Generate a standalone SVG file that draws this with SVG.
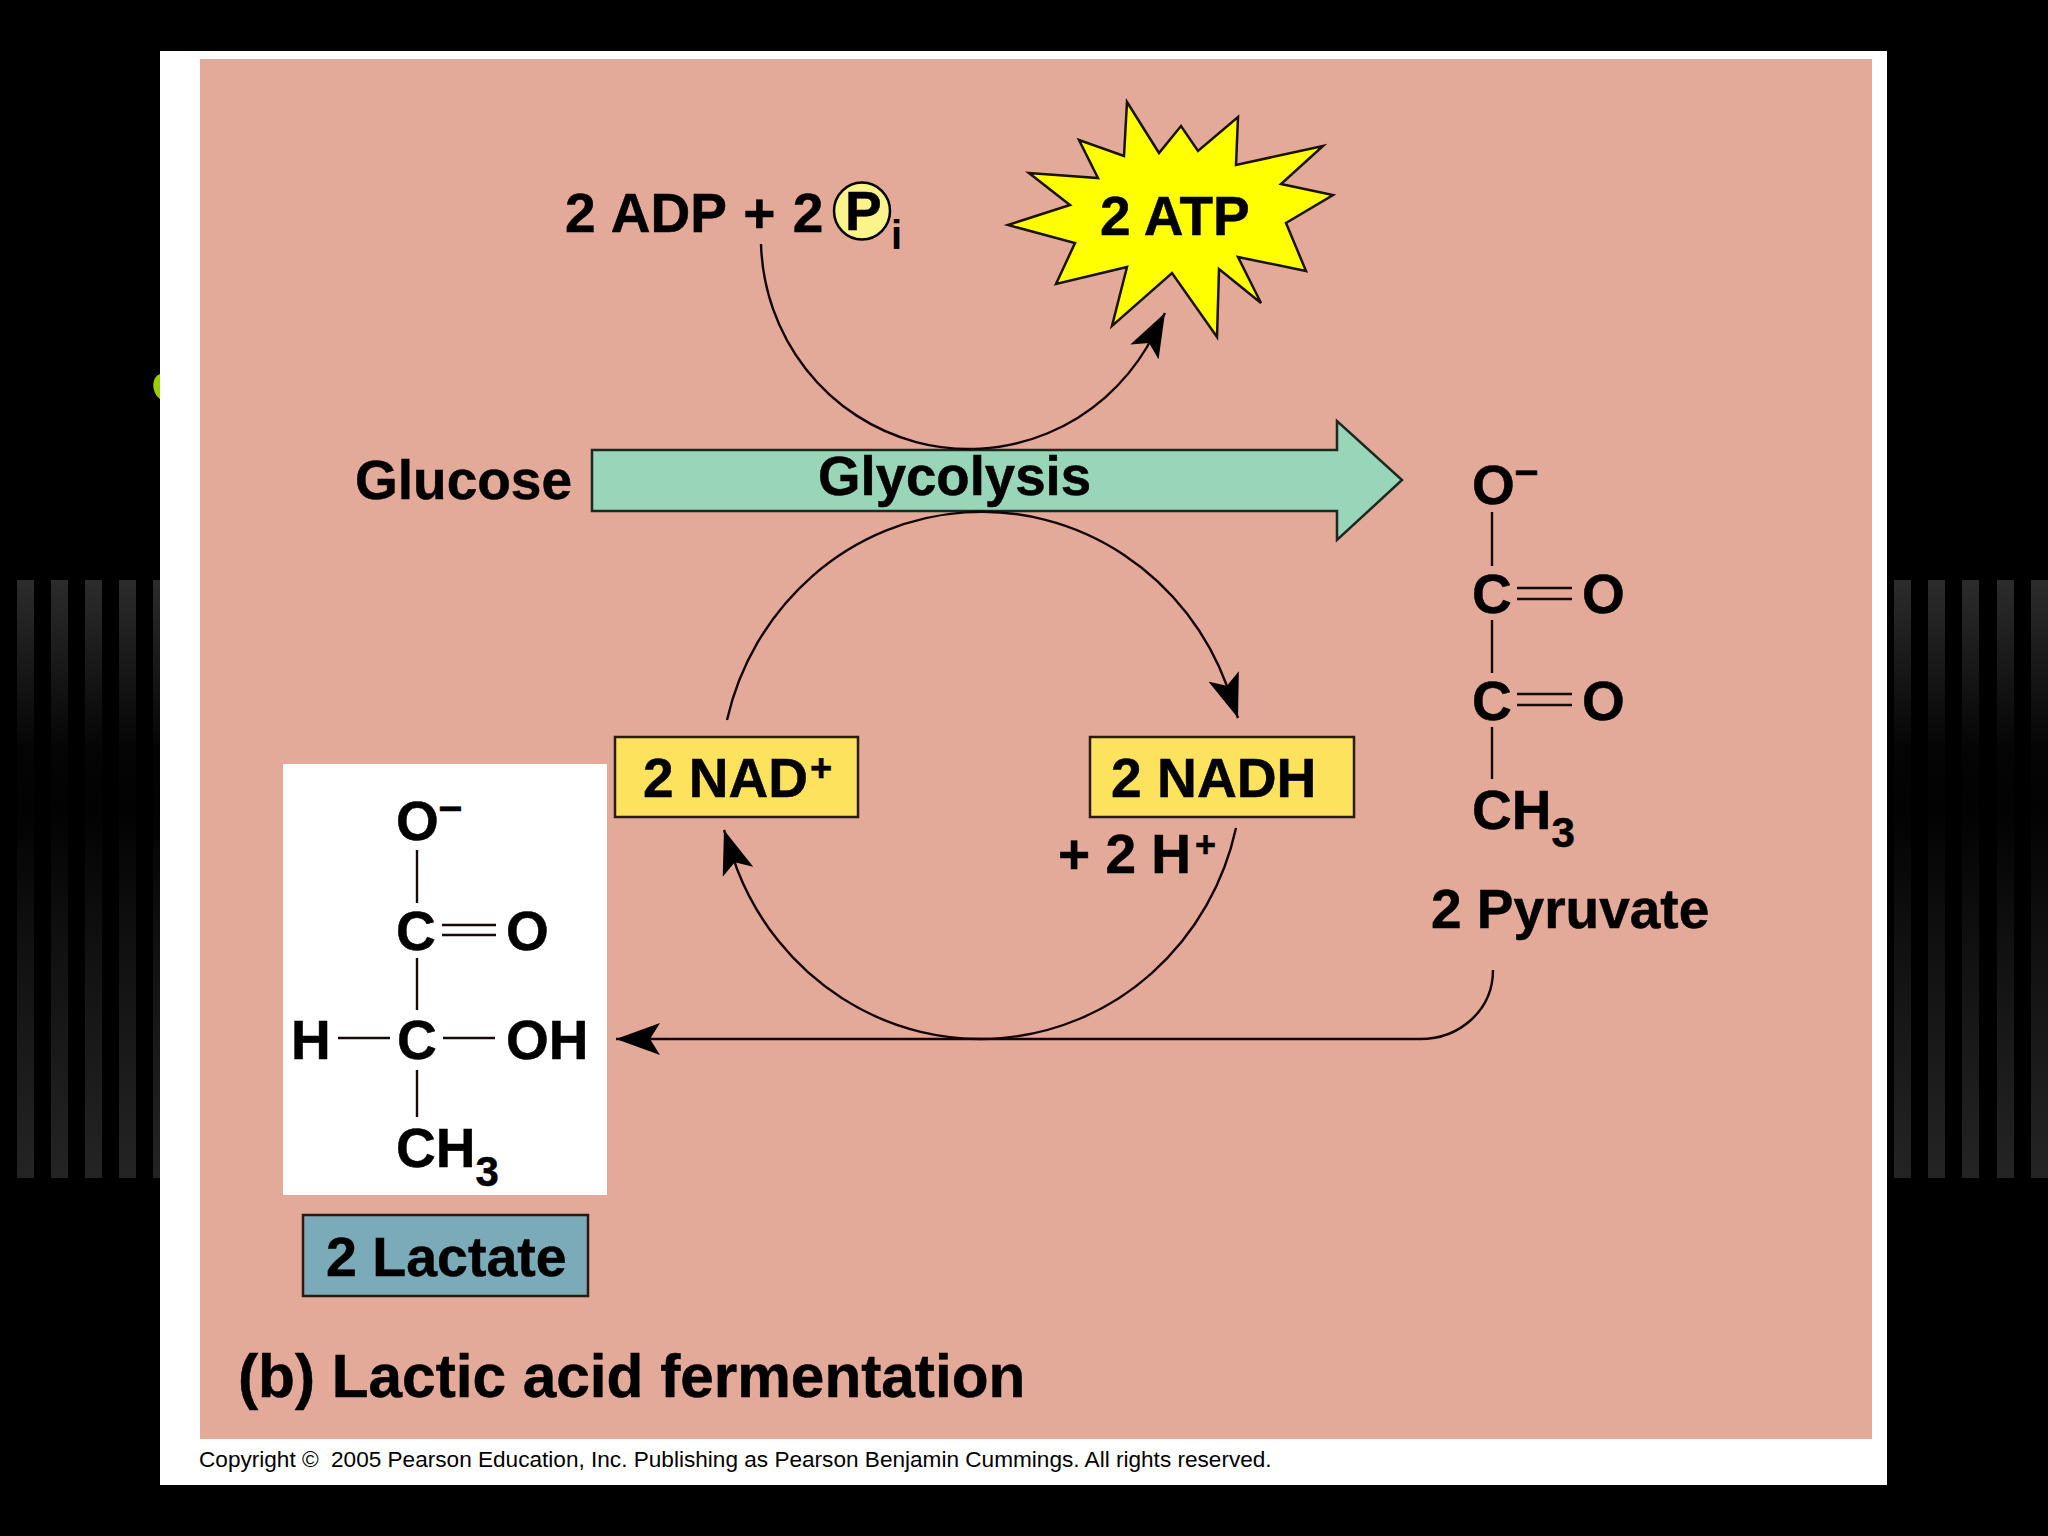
<svg xmlns="http://www.w3.org/2000/svg" width="2048" height="1536" viewBox="0 0 2048 1536">
<defs>
<linearGradient id="st" x1="0" y1="580" x2="0" y2="1178" gradientUnits="userSpaceOnUse">
<stop offset="0" stop-color="#2c2c2c"/><stop offset="0.28" stop-color="#050505"/><stop offset="0.38" stop-color="#020202"/><stop offset="0.6" stop-color="#101010"/><stop offset="1" stop-color="#242424"/>
</linearGradient>
<marker id="ah" viewBox="0 0 44 32" refX="44" refY="16" markerWidth="44" markerHeight="32" markerUnits="userSpaceOnUse" orient="auto"><path d="M44 16 L0 0 L10 16 L0 32Z" fill="#000"/></marker>
</defs>
<style>
text{font-family:"Liberation Sans",Arial,sans-serif;font-weight:700;fill:#000}
.t{font-size:55px;stroke:#000;stroke-width:.5}
.b{fill:none;stroke:#140505;stroke-width:2.4}
.l{fill:none;stroke:#140a0a;stroke-width:2.4}
.box{stroke:#2a1a10;stroke-width:2.5}
</style>
<rect width="2048" height="1536" fill="#000"/>
<g id="stripes" fill="url(#st)">
<rect x="17" y="580" width="17" height="598"/><rect x="51" y="580" width="17" height="598"/><rect x="85" y="580" width="17" height="598"/><rect x="119" y="580" width="17" height="598"/><rect x="153" y="580" width="8" height="598"/>
<rect x="1894" y="580" width="17" height="598"/><rect x="1928" y="580" width="17" height="598"/><rect x="1962" y="580" width="17" height="598"/><rect x="1997" y="580" width="17" height="598"/><rect x="2031" y="580" width="17" height="598"/>
</g>
<path d="M160 374 C154 376 152 384 154 390 C155 394 157 397 160 399Z" fill="#9acd00"/>
<rect x="160" y="51" width="1727" height="1434" fill="#fff"/>
<rect x="200" y="59" width="1672" height="1380" fill="#e3a999"/>
<g id="glycolysis"><path d="M592 450 H1337 V421 L1402 480 L1337 540 V511 H592Z" fill="#99d5b9" stroke="#1a2a20" stroke-width="2.5"/><text class="t" x="818" y="495" style="font-size:54.6px">Glycolysis</text></g>
<g id="connectors">
<path class="b" d="M761 244 A208 211 0 0 0 1147 347 L1165 313" marker-end="url(#ah)"/>
<path class="b" d="M727 720 A262 270 0 0 1 1227 686 L1238 718" marker-end="url(#ah)"/>
<path class="b" d="M1236 828 A262 270 0 0 1 737 869 L724 830" marker-end="url(#ah)"/>
<path class="b" d="M1493 970 C1493 1010 1460 1039 1420 1039 L616 1039" marker-end="url(#ah)"/>
</g>
<g id="atp"><path d="M1127 102 L1159 153 L1181 126 L1198 151 L1238 117 L1236 165 L1323 146 L1281 184 L1333 195 L1286 223 L1306 271 L1238 257 L1261 303 L1219 269 L1217 337 L1172 273 L1112 326 L1127 267 L1056 284 L1075 243 L1008 225 L1070 205 L1029 173 L1098 178 L1079 140 L1124 156Z" fill="#ff0" stroke="#1a1205" stroke-width="2.5"/><text class="t" x="1100" y="235">2 ATP</text></g>
<g id="adp"><text class="t" x="565" y="232" word-spacing="2">2 ADP + 2</text><ellipse cx="862" cy="211" rx="28" ry="28.5" fill="#fbf48c" stroke="#000" stroke-width="2.5"/><text class="t" x="845" y="230">P</text><text x="891" y="249" font-size="40">i</text></g>
<g id="glucose"><text class="t" x="355" y="499">Glucose</text></g>
<g id="nad"><rect class="box" x="615" y="737" width="243" height="80" fill="#fde25e"/><text class="t" x="643" y="797">2 NAD<tspan font-size="38" dx="2" dy="-16">+</tspan></text></g>
<g id="nadh"><rect class="box" x="1090" y="737" width="264" height="80" fill="#fde25e"/><text class="t" x="1111" y="797" style="font-size:55.2px">2 NADH</text></g>
<g id="h"><text class="t" x="1058" y="873">+ 2 H<tspan font-size="36" dx="4" dy="-16">+</tspan></text></g>
<g id="pyruvate">
<text class="t" x="1472" y="504">O<tspan font-size="42" dy="-20">–</tspan></text>
<text class="t" x="1472" y="613">C</text><text class="t" x="1582" y="613">O</text>
<text class="t" x="1472" y="720">C</text><text class="t" x="1582" y="720">O</text>
<text class="t" x="1472" y="829">CH<tspan font-size="42" dy="18">3</tspan></text>
<path class="l" d="M1492 512 V566 M1492 620 V673 M1492 727 V779 M1517 588 H1572 M1517 599 H1572 M1517 694 H1572 M1517 705 H1572"/>
<text class="t" x="1431" y="928">2 Pyruvate</text>
</g>
<g id="lactate-struct"><rect x="283" y="764" width="324" height="431" fill="#fff"/>
<text class="t" x="396" y="840">O<tspan font-size="42" dy="-20">–</tspan></text>
<text class="t" x="396" y="950">C</text><text class="t" x="506" y="950">O</text>
<text class="t" x="291" y="1059">H</text><text class="t" x="397" y="1059">C</text><text class="t" x="506" y="1059">OH</text>
<text class="t" x="396" y="1167">CH<tspan font-size="42" dy="19">3</tspan></text>
<path class="l" d="M417 850 V903 M417 958 V1010 M417 1070 V1117 M442 925 H496 M442 935 H496 M338 1038 H390 M443 1038 H495"/>
</g>
<g id="lactate"><rect class="box" x="303" y="1215" width="285" height="81" fill="#7babb8"/><text class="t" x="326" y="1276" style="font-size:55.5px">2 Lactate</text></g>
<text id="title" x="238" y="1397" font-size="60.3" stroke="#000" stroke-width=".5">(b) Lactic acid fermentation</text>
<text id="copyright" y="1467" font-size="22.6" style="font-weight:400"><tspan x="199">Copyright ©</tspan> <tspan x="331">2005 Pearson Education, Inc. Publishing as Pearson Benjamin Cummings. All rights reserved.</tspan></text>
</svg>
